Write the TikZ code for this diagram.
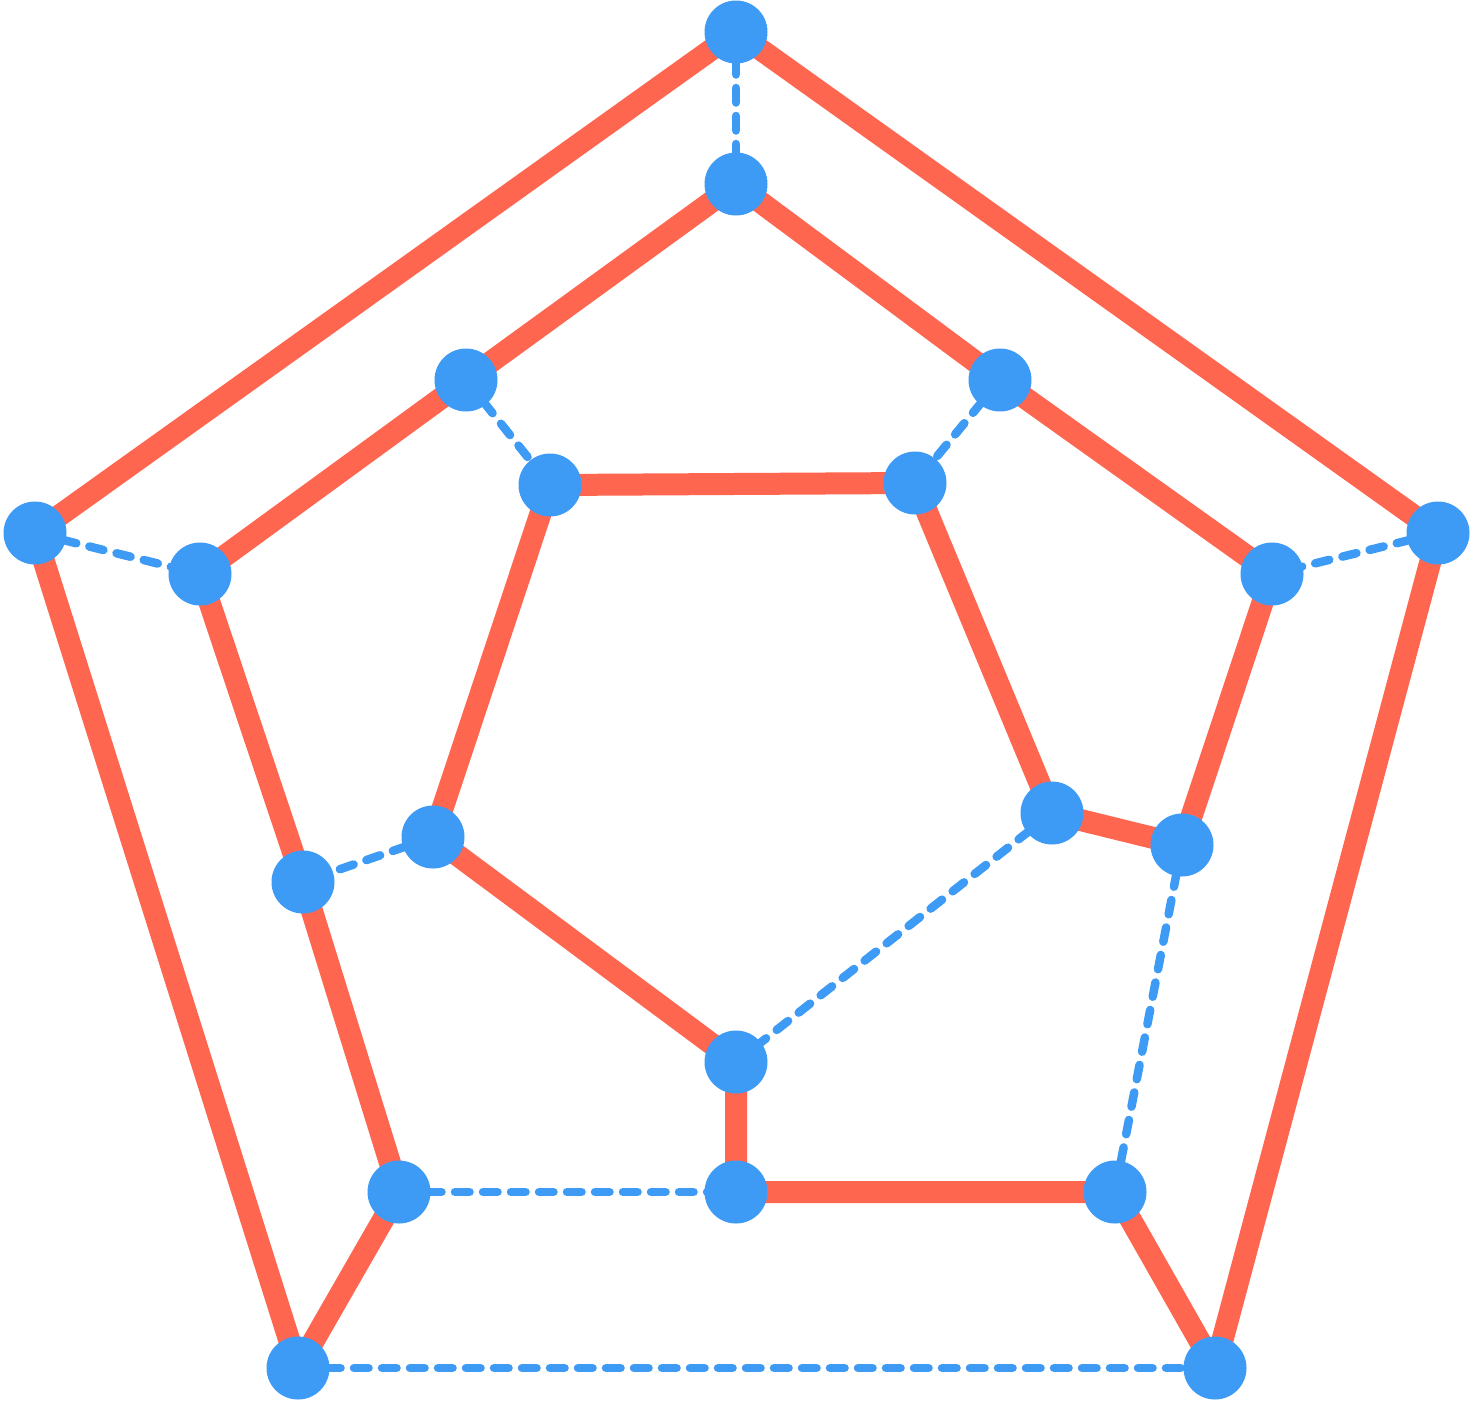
\documentclass[tikz,border=0pt]{standalone}
\definecolor{cyclered}{HTML}{FF6650}
\definecolor{nodeblue}{HTML}{3D9AF5}
\begin{document}
\begin{tikzpicture}[x=1pt,y=-1pt,
  vtx/.style={circle,fill=nodeblue,inner sep=0pt,minimum size=63pt},
  cyc/.style={draw=cyclered,line width=22pt},
  rest/.style={draw=nodeblue,line width=8.5pt,line cap=round,dash pattern=on 14.5pt off 13.5pt}]
\useasboundingbox (0,0) rectangle (1473,1401);
\coordinate (A1) at (736,32);
\coordinate (A2) at (1438,533);
\coordinate (A3) at (1215,1368);
\coordinate (A4) at (298,1368);
\coordinate (A5) at (35,533);
\coordinate (B1) at (736,184);
\coordinate (B2) at (1000,380);
\coordinate (B3) at (1272,574);
\coordinate (B4) at (1182,845);
\coordinate (B5) at (1115,1192);
\coordinate (B6) at (736,1192);
\coordinate (B7) at (399,1192);
\coordinate (B8) at (303,882);
\coordinate (B9) at (200,574);
\coordinate (B10) at (466,380);
\coordinate (C1) at (550,485);
\coordinate (C2) at (915,483);
\coordinate (C3) at (1052,813);
\coordinate (C4) at (736,1062);
\coordinate (C5) at (433,837);
% Hamiltonian cycle
\draw[cyc,line join=round] (A1) -- (A2) -- (A3) -- (B5) -- (B6) -- (C4) -- (C5) -- (C1) -- (C2) -- (C3) -- (B4) -- (B3) -- (B2) -- (B1) -- (B10) -- (B9) -- (B8) -- (B7) -- (A4) -- (A5) -- cycle;
% remaining edges
\foreach \u/\v in {A1/B1,A2/B3,A4/A3,A5/B9,B10/C1,B2/C2,C3/C4,B4/B5,B7/B6,C5/B8}
  \draw[rest] (\u) -- (\v);
% vertices
\foreach \n in {A1,A2,A3,A4,A5,B1,B2,B3,B4,B5,B6,B7,B8,B9,B10,C1,C2,C3,C4,C5}
  \node[vtx] (n\n) at (\n) {};
\end{tikzpicture}
\end{document}
